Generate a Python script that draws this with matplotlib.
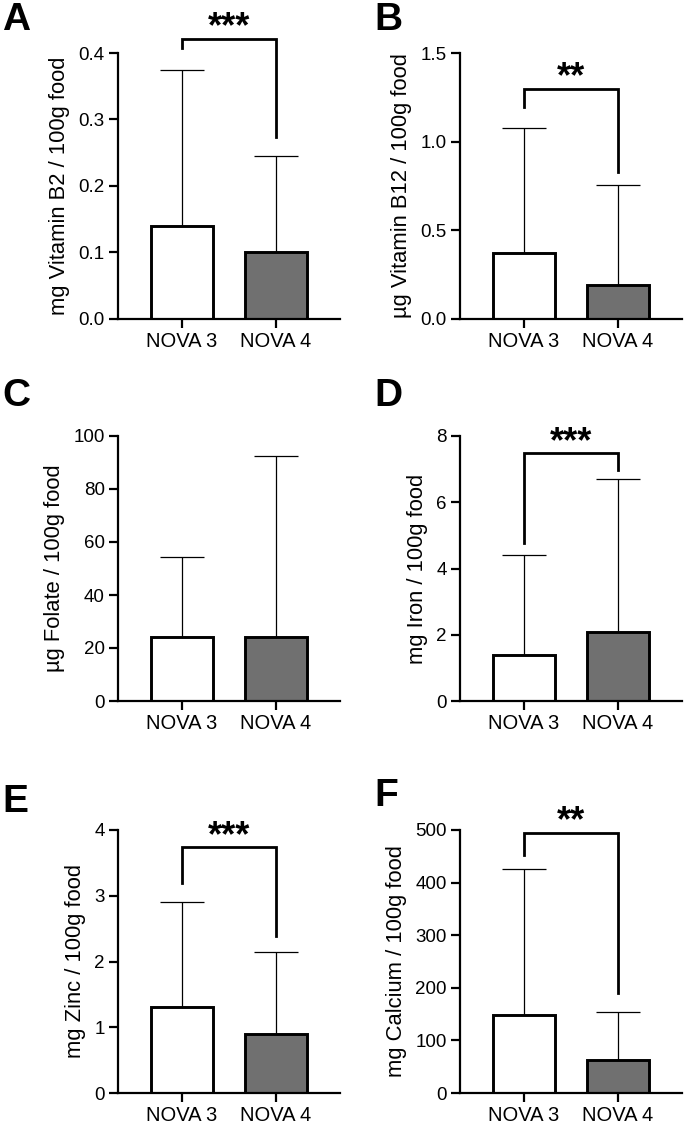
import matplotlib.pyplot as plt
from matplotlib.ticker import FormatStrFormatter
import numpy as np

plt.rcParams['font.family'] = ['Liberation Sans', 'DejaVu Sans']

groups = ['NOVA 3', 'NOVA 4']
letters = ['A', 'B', 'C', 'D', 'E', 'F']
ylabels = ['mg Vitamin B2 / 100g food', 'µg Vitamin B12 / 100g food',
           'µg Folate / 100g food', 'mg Iron / 100g food',
           'mg Zinc / 100g food', 'mg Calcium / 100g food']

nova3_mean = [0.14, 0.37, 24.2, 1.38, 1.31, 148]
nova3_top = [0.375, 1.077, 54.4, 4.42, 2.91, 425]
nova4_mean = [0.10, 0.19, 24.3, 2.07, 0.90, 62]
nova4_top = [0.245, 0.754, 92.4, 6.69, 2.14, 154]

ymax = [0.4, 1.5, 100, 8, 4, 500]
ystep = [0.1, 0.5, 20, 2, 1, 100]
decimals = [1, 1, 0, 0, 0, 0]

# significance brackets (None = not shown)
stars = ['***', '**', None, '***', '***', '**']
bracket_y = [0.4216, 1.297, None, 7.48, 3.74, 495]
leg3_end = [0.4075, 1.195, None, 4.78, 3.2, 452]
leg4_end = [0.2737, 0.827, None, 6.97, 2.39, 190]

W, H = 685, 1127
fig = plt.figure(figsize=(W / 100, H / 100), dpi=100)

# axes boxes in pixels: left, top(ymax), bottom(0)
lefts = [118, 460]
rows = [(53, 319), (436, 701), (830, 1093)]
ax_w = 222

for i in range(6):
    r, c = divmod(i, 2)
    top, bot = rows[r]
    ax = fig.add_axes([lefts[c] / W, 1 - bot / H, ax_w / W, (bot - top) / H])

    x = np.arange(2)
    means = [nova3_mean[i], nova4_mean[i]]
    err = [nova3_top[i] - nova3_mean[i], nova4_top[i] - nova4_mean[i]]
    ax.errorbar(x, means, yerr=[[0, 0], err], fmt='none', ecolor='black',
                elinewidth=0.9, capsize=16, capthick=0.9, zorder=1)
    ax.bar(x, means, width=0.65, color=['white', '#707070'],
           edgecolor='black', linewidth=2.1, zorder=2)

    ax.set_xlim(-0.68, 1.68)
    ax.set_ylim(0, ymax[i])
    ax.set_yticks(np.arange(0, ymax[i] + ystep[i] / 2, ystep[i]))
    ax.yaxis.set_major_formatter(FormatStrFormatter('%.' + str(decimals[i]) + 'f'))
    ax.set_xticks(x)
    ax.set_xticklabels(groups)
    ax.tick_params(axis='both', width=1.6, length=6.5, direction='out', colors='black')
    ax.tick_params(axis='y', labelsize=13.5, pad=3)
    ax.tick_params(axis='x', labelsize=14.5, pad=3)
    for s in ['top', 'right']:
        ax.spines[s].set_visible(False)
    for s in ['left', 'bottom']:
        ax.spines[s].set_linewidth(1.6)
    ax.set_ylabel(ylabels[i], fontsize=15.8, labelpad=6)

    if stars[i] is not None:
        by = bracket_y[i]
        ax.plot([0, 0, 1, 1], [leg3_end[i], by, by, leg4_end[i]],
                color='black', lw=2.0, clip_on=False, solid_joinstyle='miter')
        ax.annotate(stars[i], xy=(0.5, by), xytext=(0, 1), textcoords='offset points',
                    ha='center', va='baseline', fontsize=26, fontweight='bold',
                    annotation_clip=False)

    lx = 2 if c == 0 else 374
    ly = [2, 378, 784][r] if not (r == 2 and c == 1) else 778
    fig.text(lx / W, 1 - ly / H, letters[i], fontsize=28, fontweight='bold',
             ha='left', va='top')

fig.savefig('out.png', dpi=100)
